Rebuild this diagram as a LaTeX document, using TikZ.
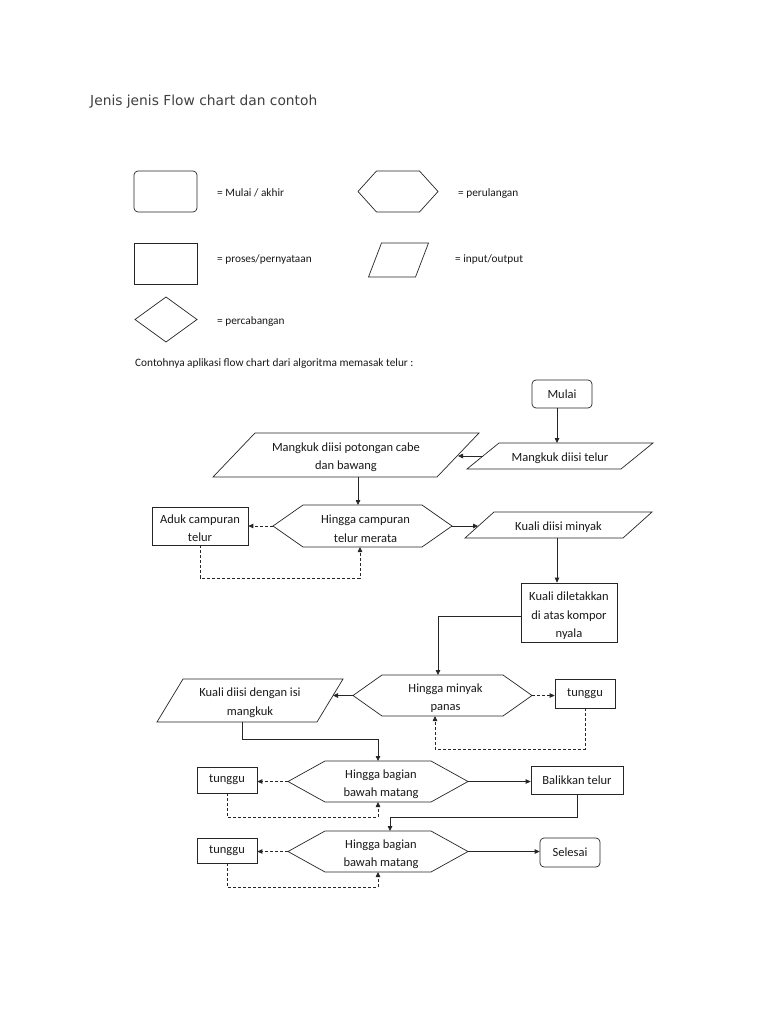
\documentclass[tikz,border=0pt]{standalone}
\usepackage{fontspec}
\setmainfont{Carlito}
\newfontfamily\titlefont{DejaVu Sans}
\usetikzlibrary{arrows.meta}

\newcommand{\mypara}[7]{%
  \draw[shp] ({#2-#4+#6},{#3-#5}) -- ({#2+#4+#6},{#3-#5}) -- ({#2+#4-#6},{#3+#5}) -- ({#2-#4-#6},{#3+#5}) -- cycle;
  \node[lbl] (#1) at (#2,{#3+2}) {#7};
  \coordinate (#1-L) at ({#2-#4},#3);
  \coordinate (#1-R) at ({#2+#4},#3);
}
\newcommand{\myhex}[7]{%
  \draw[shp] ({#2-#4},#3) -- ({#2-#4+#6},{#3-#5}) -- ({#2+#4-#6},{#3-#5}) -- ({#2+#4},#3) -- ({#2+#4-#6},{#3+#5}) -- ({#2-#4+#6},{#3+#5}) -- cycle;
  \node[lbl] (#1) at ({#2+3},{#3+2.5}) {#7};
  \coordinate (#1-L) at ({#2-#4},#3);
  \coordinate (#1-R) at ({#2+#4},#3);
}

\begin{document}
\begin{tikzpicture}[x=1pt,y=-1pt,
  shp/.style={draw=black!85, line width=0.7pt},
  lbl/.style={inner sep=0pt, align=center, text=black!90, font=\fontsize{12.5}{18.5}\selectfont},
  box/.style={shp, rectangle, inner sep=0pt, align=center, text=black!90, font=\fontsize{12.5}{18.5}\selectfont},
  rbox/.style={box, rounded corners=4pt},
  legtxt/.style={anchor=base west, inner sep=0pt, text=black!90, font=\fontsize{11.3}{13}\selectfont},
  arr/.style={draw=black!85, line width=0.8pt, -{Triangle[length=5pt,width=4.5pt]}},
  darr/.style={arr, dash pattern=on 3pt off 2pt}]
\useasboundingbox[fill=white] (0,0) rectangle (768,1024);

% title
\node[anchor=base west, inner sep=0pt, text=black!75, font=\titlefont\fontsize{13.8}{16}\selectfont] (title) at (90,106) {Jenis jenis Flow chart dan contoh};

% legend
\node[rbox, minimum width=63pt, minimum height=41pt] (legterm) at (165.5,191.5) {};
\node[legtxt] (legterm-t) at (217,197) {= Mulai / akhir};
\myhex{leghex}{398}{191.5}{40}{20.5}{18.5}{}
\node[legtxt] (leghex-t) at (458,197) {= perulangan};
\node[box, minimum width=63pt, minimum height=41pt] (legproc) at (165.5,263.5) {};
\node[legtxt] (legproc-t) at (217,262) {= proses/pernyataan};
\mypara{legio}{398.5}{260}{23.5}{17}{6.5}{}
\node[legtxt] (legio-t) at (455,262) {= input/output};
\draw[shp] (135,319.5) -- (166,297) -- (197,319.5) -- (166,342) -- cycle;
\node[legtxt] (legdia-t) at (217,324) {= percabangan};
\node[legtxt] (intro) at (135,366) {Contohnya aplikasi flow chart dari algoritma memasak telur :};

% flowchart nodes
\node[rbox, minimum width=60pt, minimum height=28pt] (mulai) at (562,394) {Mulai};
\mypara{telur}{560}{456}{77}{13}{16}{Mangkuk diisi telur}
\mypara{big}{346}{455}{112}{22}{21}{Mangkuk diisi potongan cabe\\dan bawang}
\myhex{hexa}{362.5}{526}{89.5}{21}{30}{Hingga campuran\\telur merata}
\node[box, minimum width=96pt, minimum height=38pt] (aduk) at (200,526) {};
\node[lbl] (aduk-t) at (200,528) {Aduk campuran\\telur};
\mypara{minyak}{558.5}{525}{79}{13}{14.5}{Kuali diisi minyak}
\node[box, minimum width=96pt, minimum height=59pt] (kd) at (569,612.5) {};
\node[lbl] (kd-t) at (569,616) {Kuali diletakkan\\di atas kompor\\nyala};
\myhex{hexb}{442.5}{695.5}{89.5}{20.5}{29}{Hingga minyak\\panas}
\mypara{kmk}{250}{700.5}{80}{21.5}{13}{Kuali diisi dengan isi\\mangkuk}
\node[box, minimum width=60pt, minimum height=29pt] (ta) at (585,693.5) {tunggu};
\myhex{hexc}{378}{781.5}{90}{20.5}{37}{Hingga bagian\\bawah matang}
\node[box, minimum width=60pt, minimum height=26pt] (tb) at (227,780) {tunggu};
\node[box, minimum width=92pt, minimum height=28pt] (bal) at (577,780) {Balikkan telur};
\myhex{hexd}{378}{851.5}{90}{20.5}{37}{Hingga bagian\\bawah matang}
\node[box, minimum width=60pt, minimum height=25pt] (tc) at (227,850.5) {tunggu};
\node[rbox, minimum width=60pt, minimum height=29pt] (sel) at (570,852.5) {Selesai};

% coordinates for connector ends
\coordinate (telurT) at (557,443);
\coordinate (bigB) at (358,477);
\coordinate (hexaT) at (358,505);
\coordinate (d1) at (360,578);
\coordinate (hexaB) at (360,547);
\coordinate (minB) at (557,538);
\coordinate (hexbT) at (438,675);
\coordinate (d2) at (435,749);
\coordinate (hexbB) at (435,716);
\coordinate (kmkB) at (242,722);
\coordinate (j1) at (378,739);
\coordinate (hexcT) at (378,761);
\coordinate (d3) at (378,817);
\coordinate (hexcB) at (378,802);
\coordinate (j2) at (390,817);
\coordinate (hexdT) at (390,831);
\coordinate (d4) at (378,887);
\coordinate (hexdB) at (378,872);

% connectors
\draw[arr] (mulai.south -| telurT) -- (telurT);
\draw[arr] (telur-L) -- (telur-L -| big-R);
\draw[arr] (bigB) -- (hexaT);
\draw[darr] (hexa-L) -- (aduk.east);
\draw[darr] (aduk.south) |- (d1) -- (hexaB);
\draw[arr] (hexa-R) -- ([xshift=-1.5pt]hexa-R -| minyak-L);
\draw[arr] (minB) -- (minB |- kd.north);
\draw[arr] ([yshift=-4pt]kd.west) -| (hexbT);
\draw[arr] (hexb-L) -- ([xshift=3pt]hexb-L -| kmk-R);
\draw[darr] (hexb-R) -- (hexb-R -| ta.west);
\draw[darr] (ta.south) |- (d2) -- (hexbB);
\draw[arr] (kmkB) |- (j1) -- (hexcT);
\draw[darr] (hexc-L) -- (hexc-L -| tb.east);
\draw[darr] (tb.south) |- (d3) -- (hexcB);
\draw[arr] (hexc-R) -- (hexc-R -| bal.west);
\draw[arr] (bal.south) |- (j2) -- (hexdT);
\draw[darr] (hexd-L) -- (hexd-L -| tc.east);
\draw[darr] (tc.south) |- (d4) -- (hexdB);
\draw[arr] (hexd-R) -- (hexd-R -| sel.west);
\end{tikzpicture}
\end{document}
